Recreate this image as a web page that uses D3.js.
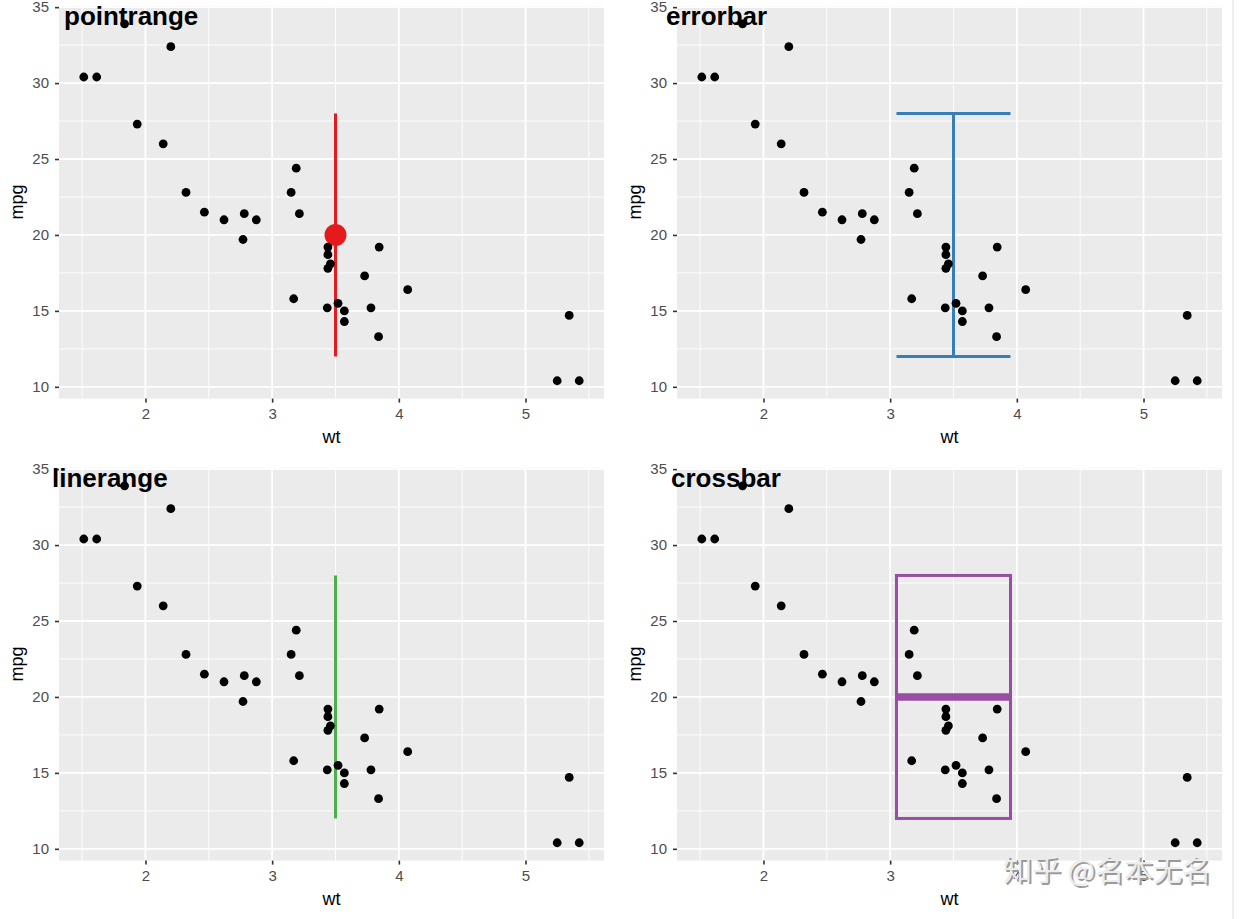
<!DOCTYPE html>
<html>
<head>
<meta charset="utf-8">
<script src="https://cdn.jsdelivr.net/npm/d3@7"></script>
<style>
  body { margin: 0; background: #fff; }
  svg { display: block; font-family: "Liberation Sans", Arial, sans-serif; }
</style>
</head>
<body>
<div id="chart"></div>
<script>
// mtcars: wt and mpg
var wt = [2.620, 2.875, 2.320, 3.215, 3.440, 3.460, 3.570, 3.190, 3.150, 3.440, 3.440,
  4.070, 3.730, 3.780, 5.250, 5.424, 5.345, 2.200, 1.615, 1.835, 2.465, 3.520,
  3.435, 3.840, 3.845, 1.935, 2.140, 1.513, 3.170, 2.770, 3.570, 2.780];
var mpg = [21.0, 21.0, 22.8, 21.4, 18.7, 18.1, 14.3, 24.4, 22.8, 19.2, 17.8,
  16.4, 17.3, 15.2, 10.4, 10.4, 14.7, 32.4, 30.4, 33.9, 21.5, 15.5,
  15.2, 13.3, 19.2, 27.3, 26.0, 30.4, 15.8, 19.7, 15.0, 21.4];

// summary interval drawn in each panel
var sumX = 3.5, sumY = 20, sumMin = 12, sumMax = 28, barWidth = 0.9;

var xTicks = [2, 3, 4, 5];
var yTicks = [10, 15, 20, 25, 30, 35];
var xMinor = [1.5, 2.5, 3.5, 4.5, 5.5];
var yMinor = [12.5, 17.5, 22.5, 27.5, 32.5];

var panelNames = ['pointrange', 'errorbar', 'linerange', 'crossbar'];
var panelColors = ['#E41A1C', '#377EB8', '#4DAF4A', '#984EA3'];
var titleShift = [5, -11, -7, -6];

var W = 1240, H = 919;
var svg = d3.select('#chart').append('svg')
  .attr('width', W).attr('height', H);

var xExt = d3.extent(wt), yExt = d3.extent(mpg);
var xPad = (xExt[1] - xExt[0]) * 0.05, yPad = (yExt[1] - yExt[0]) * 0.05;
var xDom = [xExt[0] - xPad, xExt[1] + xPad];
var yDom = [yExt[0] - yPad, yExt[1] + yPad];

var cols = [59, 677], rows = [0, 462];
var pw = 545;

panelNames.forEach(function (name, i) {
  var left = cols[i % 2], top = rows[Math.floor(i / 2)];
  var x = d3.scaleLinear().domain(xDom).range([left, left + pw]);
  var y = d3.scaleLinear().domain(yDom).range([top + 398.6, top + 6]);
  var col = panelColors[i];
  var g = svg.append('g');

  g.append('rect')
    .attr('x', x(xDom[0])).attr('y', y(yDom[1]))
    .attr('width', x(xDom[1]) - x(xDom[0]))
    .attr('height', y(yDom[0]) - y(yDom[1]))
    .attr('fill', '#EBEBEB');

  g.selectAll('.xmin').data(xMinor).enter().append('line')
    .attr('x1', function (d) { return x(d); }).attr('x2', function (d) { return x(d); })
    .attr('y1', y(yDom[0])).attr('y2', y(yDom[1]))
    .attr('stroke', '#fff').attr('stroke-width', 0.9);
  g.selectAll('.ymin').data(yMinor).enter().append('line')
    .attr('y1', function (d) { return y(d); }).attr('y2', function (d) { return y(d); })
    .attr('x1', x(xDom[0])).attr('x2', x(xDom[1]))
    .attr('stroke', '#fff').attr('stroke-width', 0.9);
  g.selectAll('.xmaj').data(xTicks).enter().append('line')
    .attr('x1', function (d) { return x(d); }).attr('x2', function (d) { return x(d); })
    .attr('y1', y(yDom[0])).attr('y2', y(yDom[1]))
    .attr('stroke', '#fff').attr('stroke-width', 1.8);
  g.selectAll('.ymaj').data(yTicks).enter().append('line')
    .attr('y1', function (d) { return y(d); }).attr('y2', function (d) { return y(d); })
    .attr('x1', x(xDom[0])).attr('x2', x(xDom[1]))
    .attr('stroke', '#fff').attr('stroke-width', 1.8);

  // summary geom
  if (name === 'crossbar') {
    g.append('rect')
      .attr('x', x(sumX - barWidth / 2)).attr('y', y(sumMax))
      .attr('width', x(sumX + barWidth / 2) - x(sumX - barWidth / 2))
      .attr('height', y(sumMin) - y(sumMax))
      .attr('fill', 'none').attr('stroke', col).attr('stroke-width', 3);
    g.append('line')
      .attr('x1', x(sumX - barWidth / 2)).attr('x2', x(sumX + barWidth / 2))
      .attr('y1', y(sumY)).attr('y2', y(sumY))
      .attr('stroke', col).attr('stroke-width', 7.5);
  } else {
    g.append('line')
      .attr('x1', x(sumX)).attr('x2', x(sumX))
      .attr('y1', y(sumMin)).attr('y2', y(sumMax))
      .attr('stroke', col).attr('stroke-width', 3);
    if (name === 'errorbar') {
      [sumMin, sumMax].forEach(function (v) {
        g.append('line')
          .attr('x1', x(sumX - barWidth / 2)).attr('x2', x(sumX + barWidth / 2))
          .attr('y1', y(v)).attr('y2', y(v))
          .attr('stroke', col).attr('stroke-width', 3);
      });
    }
    if (name === 'pointrange') {
      g.append('circle')
        .attr('cx', x(sumX)).attr('cy', y(sumY)).attr('r', 11)
        .attr('fill', col);
    }
  }

  g.selectAll('.pt').data(wt).enter().append('circle')
    .attr('cx', function (d) { return x(d); })
    .attr('cy', function (d, j) { return y(mpg[j]); })
    .attr('r', 4.4).attr('fill', '#000');

  // axes
  var ax = g.append('g')
    .attr('transform', 'translate(0,' + y(yDom[0]) + ')')
    .call(d3.axisBottom(x).tickValues(xTicks).tickFormat(d3.format('d'))
      .tickSize(4).tickPadding(6));
  var ay = g.append('g')
    .attr('transform', 'translate(' + x(xDom[0]) + ',0)')
    .call(d3.axisLeft(y).tickValues(yTicks).tickFormat(d3.format('d'))
      .tickSize(4).tickPadding(6));
  [ax, ay].forEach(function (a) {
    a.select('.domain').remove();
    a.selectAll('line').attr('stroke', '#333').attr('stroke-width', 1.6);
    a.selectAll('text').attr('fill', '#4D4D4D').style('font-size', '15px')
      .style('font-family', '"Liberation Sans", Arial, sans-serif');
  });

  g.append('text')
    .attr('x', (x(xDom[0]) + x(xDom[1])) / 2).attr('y', top + 443)
    .attr('text-anchor', 'middle').style('font-size', '18px').attr('fill', '#000')
    .text('wt');
  g.append('text')
    .attr('transform', 'translate(' + (left - 36) + ',' + (top + 202) + ') rotate(-90)')
    .attr('text-anchor', 'middle').style('font-size', '18px').attr('fill', '#000')
    .text('mpg');

  g.append('text')
    .attr('x', left + titleShift[i]).attr('y', top + 25)
    .style('font-size', '26px').style('font-weight', 'bold').attr('fill', '#000')
    .text(name);
});

// screenshot border and watermark
svg.append('line').attr('x1', 1233).attr('x2', 1233).attr('y1', 0).attr('y2', H)
  .attr('stroke', '#ddd').attr('stroke-width', 1);
var wm = '知乎 @名本无名';
svg.append('text').attr('x', 1005).attr('y', 883)
  .style('font-family', '"Noto Sans CJK SC"').style('font-size', '29px')
  .attr('fill', '#9a9a9a').text(wm);
svg.append('text').attr('x', 1003).attr('y', 881)
  .style('font-family', '"Noto Sans CJK SC"').style('font-size', '29px')
  .attr('fill', '#ececec').text(wm);
</script>
</body>
</html>
